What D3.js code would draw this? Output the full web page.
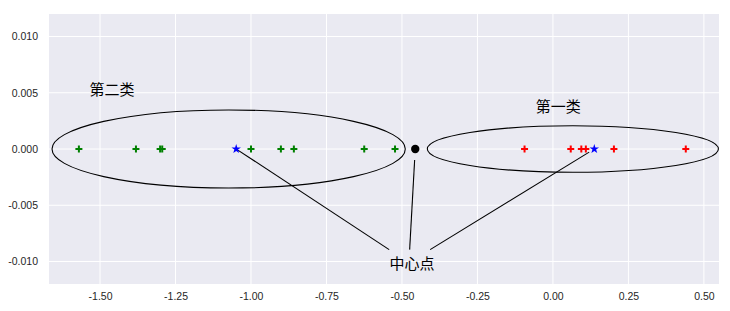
<!DOCTYPE html>
<html>
<head>
<meta charset="utf-8">
<script src="https://cdn.jsdelivr.net/npm/d3@7"></script>
<style>
  body { margin: 0; background: #fff; }
  .tick text { font-family: "Liberation Sans", Arial, sans-serif; font-size: 10.5px; fill: #262626; }
  .lbl { font-family: "Noto Sans CJK SC", sans-serif; font-size: 15px; fill: #000; }
</style>
</head>
<body>
<script>
// points of the two clusters (all on y = 0)
const greenX = [-1.570, -1.381, -1.301, -1.294, -1.000, -0.901, -0.858, -0.625, -0.523];
const redX = [-0.094, 0.059, 0.094, 0.109, 0.202, 0.440];
// cluster centres (stars) and the midpoint between them
const centers = [[-1.049, 0], [0.137, 0]];
const midPoint = [-0.456, 0];
// ellipses around the clusters: centre x, half width, half height (data units)
const ellipses = [
  {cx: -1.074, cy: 0, rx: 0.585, ry: 0.00347},
  {cx: 0.066, cy: 0, rx: 0.482, ry: 0.00207}
];
// text labels
const labels = [
  {text: "第二类", x: -1.460, y: 0.0054},
  {text: "第一类", x: 0.018, y: 0.0039}
];
const centerLabel = {text: "中心点", x: -0.467, y: -0.0101};
const xTicks = [-1.5, -1.25, -1.0, -0.75, -0.5, -0.25, 0, 0.25, 0.5];
const yTicks = [-0.010, -0.005, 0, 0.005, 0.010];

const w = 730, h = 311;
const mLeft = 49, mRight = 719, mTop = 14, mBottom = 284;

const x = d3.scaleLinear().domain([-1.669, 0.550]).range([mLeft, mRight]);
const y = d3.scaleLinear().domain([-0.012, 0.012]).range([mBottom, mTop]);

const svg = d3.select("body").append("svg")
    .attr("width", w)
    .attr("height", h);

svg.append("rect")
    .attr("x", mLeft).attr("y", mTop)
    .attr("width", mRight - mLeft).attr("height", mBottom - mTop)
    .attr("fill", "#eaeaf2");

// grid
svg.append("g").selectAll("line").data(xTicks).join("line")
    .attr("x1", d => x(d)).attr("x2", d => x(d))
    .attr("y1", mTop).attr("y2", mBottom)
    .attr("stroke", "#fff").attr("stroke-width", 1);
svg.append("g").selectAll("line").data(yTicks).join("line")
    .attr("y1", d => y(d)).attr("y2", d => y(d))
    .attr("x1", mLeft).attr("x2", mRight)
    .attr("stroke", "#fff").attr("stroke-width", 1);

const fmt = p => d => d.toFixed(p);

const xAxis = svg.append("g")
    .attr("transform", `translate(0,${mBottom})`)
    .call(d3.axisBottom(x).tickValues(xTicks).tickFormat(fmt(2)).tickSize(0).tickPadding(9));
const yAxis = svg.append("g")
    .attr("transform", `translate(${mLeft},0)`)
    .call(d3.axisLeft(y).tickValues(yTicks).tickFormat(fmt(3)).tickSize(0).tickPadding(11));
xAxis.select(".domain").remove();
yAxis.select(".domain").remove();

// ellipses
svg.append("g").selectAll("ellipse").data(ellipses).join("ellipse")
    .attr("cx", d => x(d.cx))
    .attr("cy", d => y(d.cy))
    .attr("rx", d => x(d.cx + d.rx) - x(d.cx))
    .attr("ry", d => y(d.cy) - y(d.cy + d.ry))
    .attr("fill", "none")
    .attr("stroke", "#000")
    .attr("stroke-width", 1.1);

// annotation lines from centre points to the label
const tx = x(centerLabel.x) - 3, ty = y(centerLabel.y);
const targets = [centers[0], midPoint, centers[1]];
const shrinkStart = [2, 11, 6];
svg.append("g").selectAll("line").data(targets).join("line")
    .each(function(d, i) {
      const px = x(d[0]), py = y(d[1]);
      const dx = tx - px, dy = ty - py;
      const len = Math.hypot(dx, dy);
      const s = shrinkStart[i] / len;
      const e = (dy - 13) / dy;
      d3.select(this)
        .attr("x1", px + dx * s).attr("y1", py + dy * s)
        .attr("x2", px + dx * e).attr("y2", py + dy * e);
    })
    .attr("stroke", "#000").attr("stroke-width", 1.1);

// plus markers
function drawPlus(data, color) {
  svg.append("g").selectAll("path").data(data).join("path")
    .attr("d", d => `M${x(d) - 3.5},${y(0)}h7M${x(d)},${y(0) - 3.5}v7`)
    .attr("stroke", color)
    .attr("stroke-width", 2)
    .attr("fill", "none");
}
drawPlus(greenX, "green");
drawPlus(redX, "red");

// centre stars
svg.append("g").selectAll("path").data(centers).join("path")
    .attr("transform", d => `translate(${x(d[0])},${y(d[1])})`)
    .attr("d", d3.symbol().type(d3.symbolStar).size(28))
    .attr("fill", "blue");

// midpoint
svg.append("circle")
    .attr("cx", x(midPoint[0])).attr("cy", y(midPoint[1]))
    .attr("r", 4.2)
    .attr("fill", "#000");

// labels
svg.append("g").selectAll("text").data(labels).join("text")
    .attr("class", "lbl")
    .attr("x", d => x(d.x))
    .attr("y", d => y(d.y))
    .attr("text-anchor", "middle")
    .attr("dominant-baseline", "central")
    .text(d => d.text);

svg.append("text")
    .attr("class", "lbl")
    .attr("x", x(centerLabel.x))
    .attr("y", y(centerLabel.y))
    .attr("text-anchor", "middle")
    .attr("dominant-baseline", "central")
    .text(centerLabel.text);
</script>
</body>
</html>
